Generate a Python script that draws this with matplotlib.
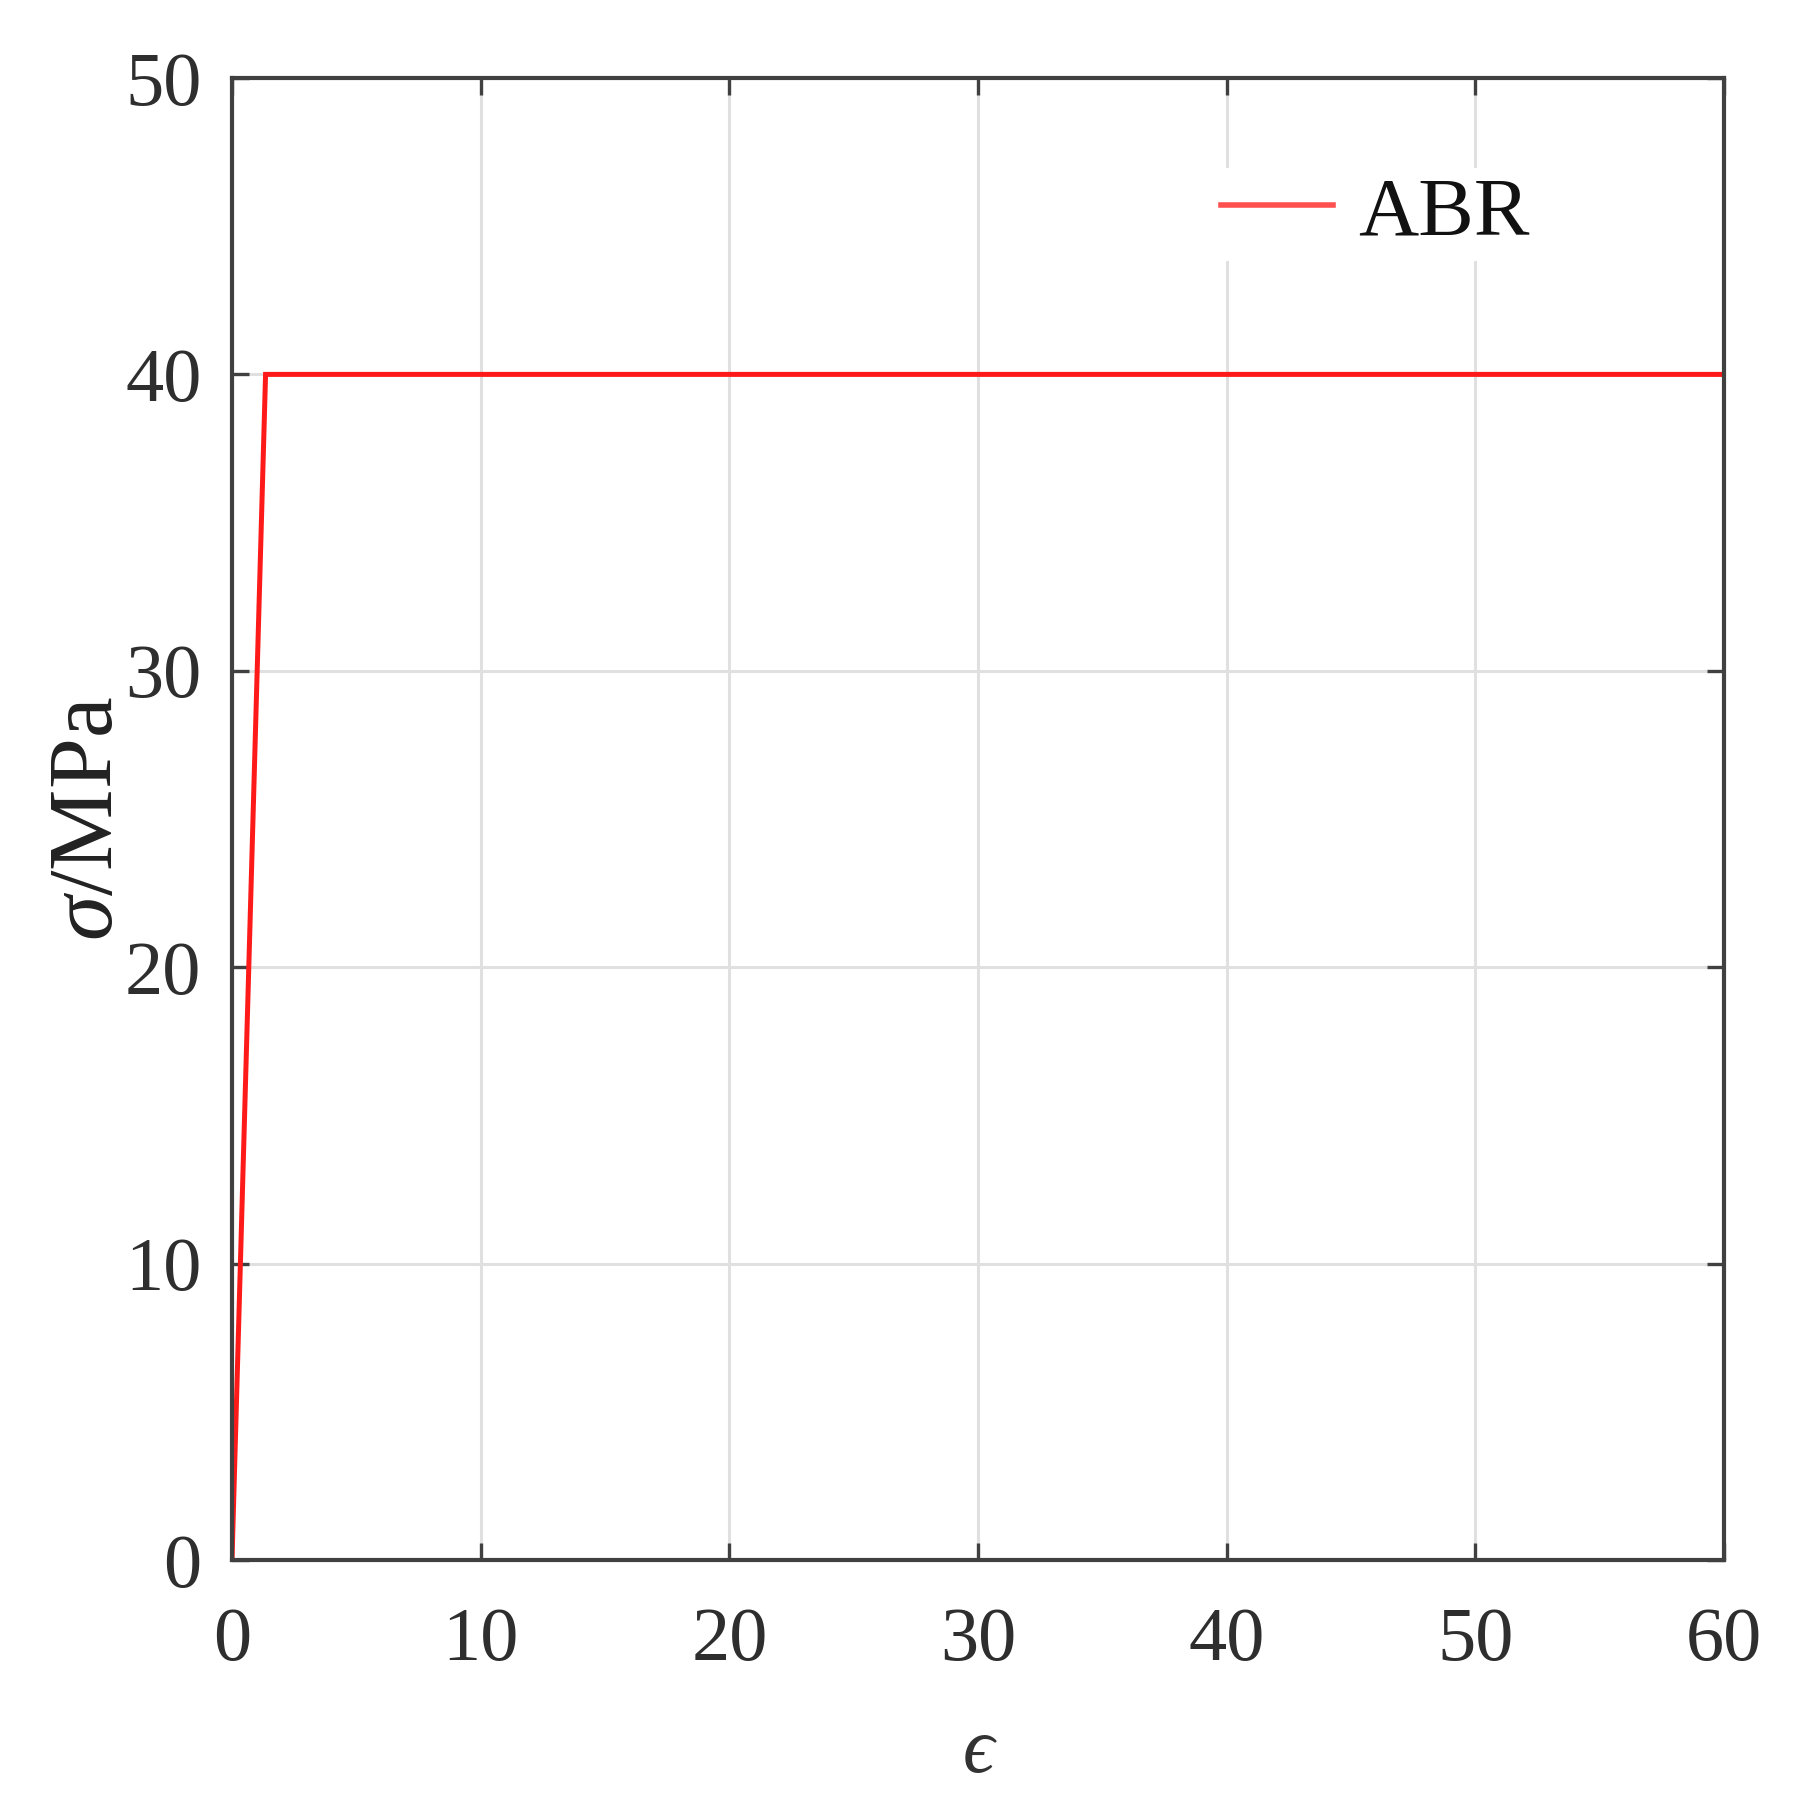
import matplotlib
matplotlib.use("Agg")
import matplotlib.pyplot as plt

# data
strain = [0.0, 1.35, 60.0]
stress = [0.0, 40.0, 40.0]
series_label = "ABR"
xticks = [0, 10, 20, 30, 40, 50, 60]
yticks = [0, 10, 20, 30, 40, 50]

plt.rcParams['font.family'] = ['Liberation Serif', 'DejaVu Serif']
plt.rcParams['mathtext.fontset'] = 'custom'
plt.rcParams['mathtext.rm'] = 'Liberation Serif'
plt.rcParams['mathtext.it'] = 'Liberation Serif:italic'

W, H = 1799, 1813
fig = plt.figure(figsize=(W / 100, H / 100), dpi=100)
left, right, top, bottom = 232, 1724, 78, 1560
ax = fig.add_axes([left / W, 1 - bottom / H, (right - left) / W, (bottom - top) / H])

ax.plot(strain, stress, color='#ff1a1a', lw=3.6, label=series_label, solid_joinstyle='miter')
ax.set_xlim(0, 60)
ax.set_ylim(0, 50)
ax.set_xticks(xticks)
ax.set_yticks(yticks)
ax.grid(True, color='#e0e0e0', lw=2.2)
ax.set_axisbelow(True)

for s in ax.spines.values():
    s.set_color('#404040')
    s.set_linewidth(3.0)

ax.tick_params(axis='both', direction='in', length=12, width=2.4, color='#404040',
               labelsize=55, labelcolor='#2e2e2e', top=True, right=True)
ax.tick_params(axis='y', pad=22)
ax.tick_params(axis='x', pad=34)

ax.set_xlabel('ϵ', fontsize=56, color='#333333', labelpad=30,
              family=['Liberation Serif', 'DejaVu Serif'], fontstyle='italic')
ax.set_ylabel(r'$\sigma$/MPa', fontsize=66, color='#222222', labelpad=-4)

leg = ax.legend(loc='center left', bbox_to_anchor=(0.657, 0.908), fontsize=60,
                handlelength=1.35, handletextpad=0.3, borderpad=0.1, borderaxespad=0,
                frameon=True, fancybox=False)
leg.get_frame().set_facecolor('white')
leg.get_frame().set_edgecolor('none')
leg.get_frame().set_alpha(1)
for t in leg.get_texts():
    t.set_color('#111111')
for l in leg.get_lines():
    l.set_color('#ff5050')
    l.set_linewidth(4.0)

fig.savefig('out.png', dpi=100, facecolor='white')
